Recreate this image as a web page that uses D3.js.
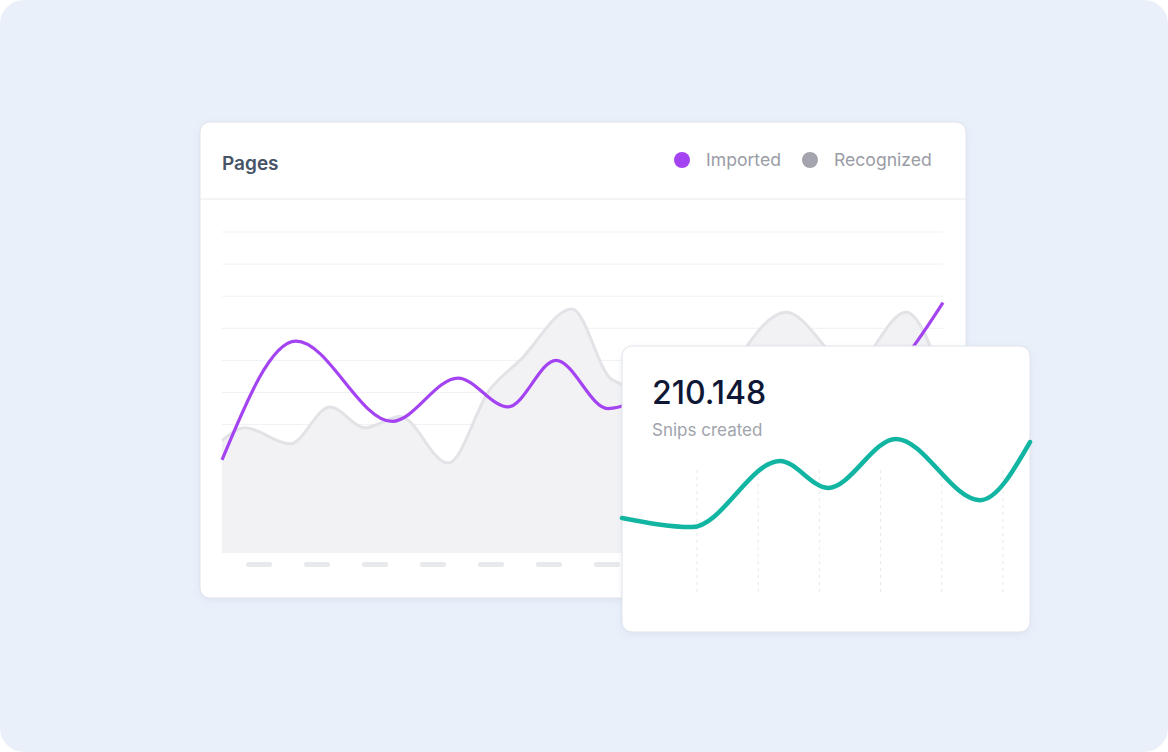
<!DOCTYPE html>
<html><head><meta charset="utf-8">
<script src="https://cdn.jsdelivr.net/npm/d3@7"></script>
<style>html,body{margin:0;padding:0;background:#fff;}svg{display:block;font-family:Inter,"Noto Sans",sans-serif;}</style>
</head><body>
<script>
const importedX = [0, 74, 170, 236, 286, 334, 386, 470, 560, 650, 721];
const importedV = [29, 66, 41, 54.5, 45.5, 60, 45, 55, 46, 52, 78];
const recognizedX = [0, 23, 68, 108, 143, 178, 226, 268, 298, 350, 390, 470, 564, 630, 684, 721];
const recognizedV = [35, 39, 34, 45.5, 39, 42.5, 28, 51, 60, 76, 54, 47, 75, 58, 75, 54];
const snipsX = [0, 70, 158, 206, 274, 358, 408];
const snipsV = [22, 19.4, 38.3, 30.6, 44.6, 27.1, 43.7];
const xLabelSlots = [0, 1, 2, 3, 4, 5, 6, 7, 8, 9, 10, 11];
const gridTicks = [0, 10, 20, 30, 40, 50, 60, 70, 80, 90, 100];
const legend = [{name:"Imported", color:"#a443f1"}, {name:"Recognized", color:"#a3a4ad"}];

const W = 1168, H = 752;
const svg = d3.select("body").append("svg").attr("width", W).attr("height", H);
const defs = svg.append("defs");
const f = defs.append("filter").attr("id","sh").attr("x","-10%").attr("y","-10%").attr("width","120%").attr("height","130%");
f.append("feDropShadow").attr("dx",0).attr("dy",2).attr("stdDeviation",3).attr("flood-color","#8090b0").attr("flood-opacity",0.12);

svg.append("rect").attr("width",W).attr("height",H).attr("rx",24).attr("fill","#e9f0fa");

const card = {x:200, y:122, w:766, h:476};
svg.append("rect").attr("x",card.x).attr("y",card.y).attr("width",card.w).attr("height",card.h).attr("rx",10)
  .attr("fill","#fff").attr("stroke","#dfe3ea").attr("filter","url(#sh)");
svg.append("line").attr("x1",card.x).attr("x2",card.x+card.w).attr("y1",199).attr("y2",199).attr("stroke","#e8eaee");
svg.append("text").attr("x",222).attr("y",170).attr("font-size",19).attr("font-weight",600).attr("fill","#475467").text("Pages");
const lg = svg.append("g").selectAll("g").data(legend).join("g").attr("transform",(d,i)=>`translate(${[682,810][i]},160)`);
lg.append("circle").attr("r",8).attr("fill",d=>d.color);
lg.append("text").attr("x",24).attr("y",6).attr("font-size",17.6).attr("fill","#9a9ca6").text(d=>d.name);

const x = d3.scaleLinear().domain([0,721]).range([222,943]);
const y = d3.scaleLinear().domain([0,100]).range([553,232]);
const g = svg.append("g");
g.selectAll("line.grid").data(gridTicks.filter(t=>t>=40)).join("line")
  .attr("x1",222).attr("x2",943).attr("y1",d=>y(d)).attr("y2",d=>y(d)).attr("stroke","#f0f1f4");
const rec = recognizedX.map((d,i)=>[d,recognizedV[i]]);
g.append("path").datum(rec).attr("fill","#f2f2f5")
  .attr("d",d3.area().x(d=>x(d[0])).y0(y(0)).y1(d=>y(d[1])).curve(d3.curveMonotoneX));
g.append("path").datum(rec).attr("fill","none").attr("stroke","#e3e3e7").attr("stroke-width",3)
  .attr("d",d3.line().x(d=>x(d[0])).y(d=>y(d[1])).curve(d3.curveMonotoneX));
const imp = importedX.map((d,i)=>[d,importedV[i]]);
g.append("path").datum(imp).attr("fill","none").attr("stroke","#a443f1").attr("stroke-width",3.2)
  .attr("d",d3.line().x(d=>x(d[0])).y(d=>y(d[1])).curve(d3.curveMonotoneX));
const xb = d3.scaleBand().domain(xLabelSlots).range([246,910]).paddingInner(0.55);
g.selectAll("rect.lab").data(xLabelSlots).join("rect").attr("x",d=>xb(d)).attr("y",562).attr("width",xb.bandwidth()).attr("height",5).attr("rx",2.5).attr("fill","#e8e9ec");

const sc = {x:622, y:346, w:408, h:286};
svg.append("rect").attr("x",sc.x).attr("y",sc.y).attr("width",sc.w).attr("height",sc.h).attr("rx",10)
  .attr("fill","#fff").attr("stroke","#dfe3ea").attr("filter","url(#sh)");
svg.append("text").attr("x",652).attr("y",404).attr("font-size",32).attr("font-weight",500).attr("fill","#0e1836").text("210.148");
svg.append("text").attr("x",652).attr("y",436).attr("font-size",17).attr("fill","#a0a3ab").text("Snips created");
const sx = d3.scaleLinear().domain([0,408]).range([622,1030]);
const sy = d3.scaleLinear().domain([0,50]).range([595,420]);
const sg = svg.append("g");
sg.selectAll("line").data([0,1,2,3,4,5]).join("line")
  .attr("x1",d=>697+d*61.2).attr("x2",d=>697+d*61.2).attr("y1",470).attr("y2",595)
  .attr("stroke","#e6e7eb").attr("stroke-dasharray","3,4");
const sn = snipsX.map((d,i)=>[d,snipsV[i]]);
sg.append("path").datum(sn).attr("fill","none").attr("stroke","#12b5a2").attr("stroke-width",4.5).attr("stroke-linecap","round")
  .attr("d",d3.line().x(d=>sx(d[0])).y(d=>sy(d[1])).curve(d3.curveMonotoneX));
</script>
</body></html>
